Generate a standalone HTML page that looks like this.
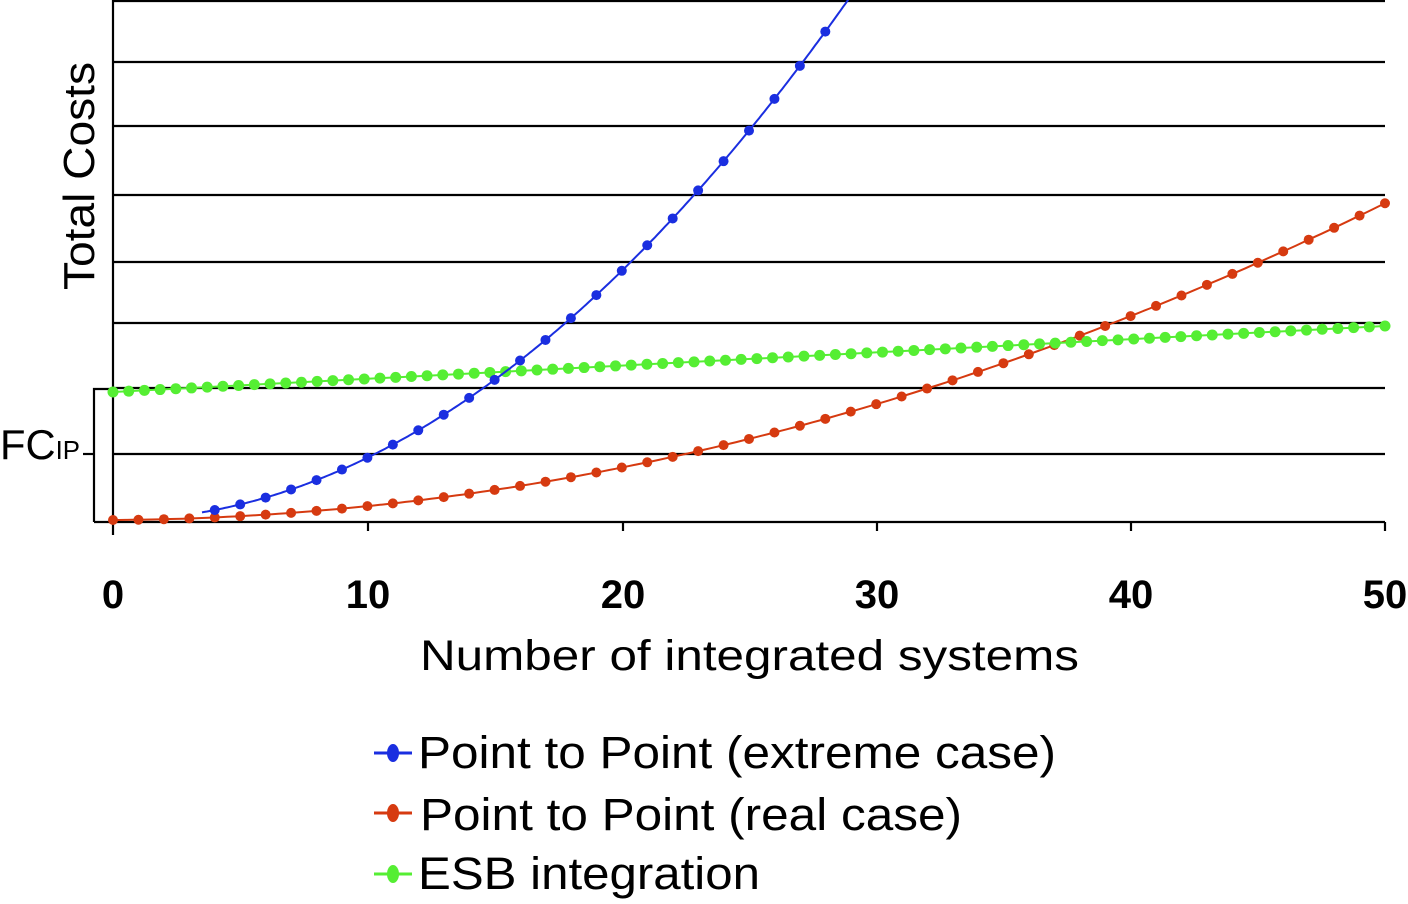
<!DOCTYPE html>
<html><head><meta charset="utf-8"><style>
html,body{margin:0;padding:0;background:#fff;}
svg{display:block;font-family:"Liberation Sans",Arial,sans-serif;}
</style></head><body>
<svg id="s" width="1408" height="904" viewBox="0 0 1408 904" xmlns="http://www.w3.org/2000/svg">
<g stroke="#000" stroke-width="2.2" fill="none">
<line x1="113" y1="1" x2="1385" y2="1"/>
<line x1="113" y1="62" x2="1385" y2="62"/>
<line x1="113" y1="126" x2="1385" y2="126"/>
<line x1="113" y1="195" x2="1385" y2="195"/>
<line x1="113" y1="262" x2="1385" y2="262"/>
<line x1="113" y1="323" x2="1385" y2="323"/>
<line x1="113" y1="388" x2="1385" y2="388"/>
<line x1="113" y1="454" x2="1385" y2="454"/>
<line x1="94" y1="522" x2="1385" y2="522"/>
<line x1="113" y1="0" x2="113" y2="535"/>
<polyline points="113,389 94,389 94,522"/>
<line x1="83" y1="454" x2="94" y2="454"/>
<line x1="368" y1="522" x2="368" y2="531"/>
<line x1="623" y1="522" x2="623" y2="531"/>
<line x1="877" y1="522" x2="877" y2="531"/>
<line x1="1131" y1="522" x2="1131" y2="531"/>
<line x1="1385" y1="522" x2="1385" y2="531"/>
</g>
<g id="series"></g>
<text x="94" y="176" font-size="44" transform="rotate(-90 94 176)" text-anchor="middle" textLength="228" lengthAdjust="spacingAndGlyphs">Total Costs</text>
<text x="0" y="459" font-size="42" textLength="80" lengthAdjust="spacingAndGlyphs">FC<tspan font-size="26">IP</tspan></text>
<g font-size="40" font-weight="bold" text-anchor="middle">
<text x="113" y="608">0</text><text x="368" y="608">10</text><text x="623" y="608">20</text>
<text x="877" y="608">30</text><text x="1131" y="608">40</text><text x="1385" y="608">50</text>
</g>
<text x="420" y="670" font-size="43" textLength="659" lengthAdjust="spacingAndGlyphs">Number of integrated systems</text>
<g font-size="45">
<line x1="374" y1="753" x2="412" y2="753" stroke="#1a2ee0" stroke-width="3"/><ellipse cx="393" cy="753" rx="6" ry="9" fill="#1a2ee0"/>
<text x="418" y="768" textLength="638" lengthAdjust="spacingAndGlyphs">Point to Point (extreme case)</text>
<line x1="374" y1="813" x2="412" y2="813" stroke="#d63a10" stroke-width="3"/><ellipse cx="393" cy="813" rx="6" ry="9" fill="#d63a10"/>
<text x="420" y="830" textLength="542" lengthAdjust="spacingAndGlyphs">Point to Point (real case)</text>
<line x1="374" y1="874" x2="412" y2="874" stroke="#55ee33" stroke-width="3"/><ellipse cx="393" cy="874" rx="6" ry="9" fill="#55ee33"/>
<text x="418" y="889" textLength="342" lengthAdjust="spacingAndGlyphs">ESB integration</text>
</g>
</svg>
<script>
(function(){
var g=document.getElementById('series'),ns='http://www.w3.org/2000/svg';
function X(v){return 113+v*25.44;}
function add(pts,col,dots,r){
 var p=document.createElementNS(ns,'polyline');
 p.setAttribute('points',pts.map(function(a){return a[0].toFixed(1)+','+a[1].toFixed(1)}).join(' '));
 p.setAttribute('fill','none');p.setAttribute('stroke',col);p.setAttribute('stroke-width','2');g.appendChild(p);
 dots.forEach(function(a){var c=document.createElementNS(ns,'circle');c.setAttribute('cx',a[0]);c.setAttribute('cy',a[1]);c.setAttribute('r',r);c.setAttribute('fill',col);g.appendChild(c);});
}
function ry(x){return 520-(0.1237*x*x+0.15*x);}
var red=[],redD=[];
for(var x=0;x<=50;x+=0.25){red.push([X(x),ry(x)]);}
for(x=0;x<=50;x++){redD.push([X(x),ry(x)]);}
add(red,'#d63a10',redD,5);
var gr=[],grD=[];
for(var i=0;i<=81;i++){var xx=i*50/81;grD.push([X(xx),392-1.32*xx]);}
gr=[[X(0),392],[X(50),326]];
add(gr,'#55ee33',grD,5.5);
var bl=[],blD=[];
for(x=3.5;x<=29;x+=0.1){var y=520-0.623*x*x;if(y<-2)break;bl.push([X(x),y]);}
for(x=4;x<=28;x++){blD.push([X(x),520-0.623*x*x]);}
add(bl,'#1a2ee0',blD,5);
})();
</script>
</body></html>
